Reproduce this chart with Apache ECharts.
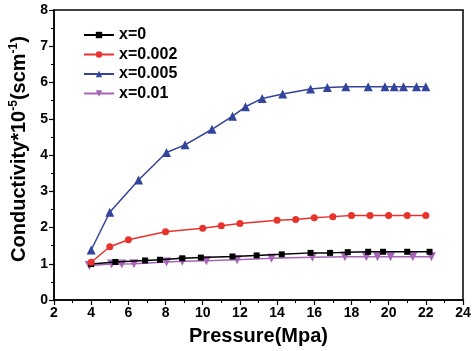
<!DOCTYPE html>
<html>
<head>
<meta charset="utf-8">
<script src="https://cdn.jsdelivr.net/npm/echarts@6/dist/echarts.min.js"></script>
<style>
  html, body { margin: 0; padding: 0; background: #fff; }
  #chart { width: 474px; height: 351px; }
</style>
</head>
<body>
<div id="chart"></div>
<script>
// values
const seriesNames = ['x=0', 'x=0.002', 'x=0.005', 'x=0.01'];

const p0 = [4, 5.3, 6.9, 7.7, 8.9, 9.9, 11.6, 12.9, 14.25, 15.8, 16.85, 17.8, 18.9, 19.7, 21.0, 22.2];
const c0 = [0.99, 1.05, 1.09, 1.11, 1.15, 1.17, 1.2, 1.23, 1.26, 1.3, 1.3, 1.32, 1.33, 1.33, 1.33, 1.33];

const p002 = [4, 5, 6, 8, 10, 11, 12, 14, 15, 16, 17, 18, 19, 20, 21, 22];
const c002 = [1.04, 1.47, 1.66, 1.88, 1.98, 2.05, 2.11, 2.2, 2.22, 2.27, 2.3, 2.33, 2.33, 2.33, 2.33, 2.33];

const p005 = [4, 5, 6.55, 8.05, 9.05, 10.5, 11.6, 12.3, 13.2, 14.3, 15.8, 16.7, 17.7, 18.9, 19.8, 20.3, 20.8, 21.5, 22.0];
const c005 = [1.38, 2.42, 3.31, 4.07, 4.28, 4.71, 5.07, 5.33, 5.56, 5.68, 5.82, 5.86, 5.88, 5.88, 5.88, 5.88, 5.88, 5.88, 5.88];

const p01 = [3.9, 5.1, 5.65, 6.3, 8.05, 8.9, 10.2, 11.85, 13.7, 15.9, 17.65, 18.8, 19.4, 20.1, 21.3, 22.3];
const c01 = [0.95, 0.99, 0.99, 1.0, 1.05, 1.07, 1.08, 1.11, 1.15, 1.18, 1.19, 1.19, 1.19, 1.19, 1.19, 1.19];

const xTicks = { min: 2, max: 24, step: 2 };
const yTicks = { min: 0, max: 8, step: 1 };

const colors = ['#000000', '#e8322c', '#33449c', '#a764b8'];
const symbols = ['rect', 'circle', 'triangle', 'path://M0,0 L10,0 L5,9 Z'];
const symbolSizes = [6, 7, 9, 9];

const zip = (xs, ys) => xs.map((x, i) => [x, ys[i]]);
const pairs = [zip(p0, c0), zip(p002, c002), zip(p005, c005), zip(p01, c01)];

const font = '"Liberation Sans", Arial, sans-serif';

const chart = echarts.init(document.getElementById('chart'));

chart.setOption({
  animation: false,
  textStyle: { fontFamily: font },
  grid: {
    left: 50, right: 11, top: 10, bottom: 51,
    show: true,
    borderColor: '#000',
    borderWidth: 1.5
  },
  legend: {
    orient: 'vertical',
    left: 78,
    top: 22,
    itemWidth: 30,
    itemHeight: 8,
    itemGap: 3.5,
    textStyle: { fontFamily: font, fontSize: 16, fontWeight: 'bold', color: '#000' },
    data: seriesNames
  },
  xAxis: {
    type: 'value',
    min: xTicks.min,
    max: xTicks.max,
    interval: xTicks.step,
    name: 'Pressure(Mpa)',
    nameLocation: 'middle',
    nameGap: 26,
    nameTextStyle: { fontSize: 20, fontWeight: 'bold', color: '#000', fontFamily: font },
    axisLine: { lineStyle: { color: '#000', width: 1.5 } },
    axisTick: { show: true, inside: false, length: 5, lineStyle: { color: '#000', width: 1.2 } },
    minorTick: { show: true, splitNumber: 2, length: 3, lineStyle: { color: '#000', width: 1 } },
    axisLabel: { fontSize: 14, fontWeight: 'bold', color: '#000', margin: 6, fontFamily: font },
    splitLine: { show: false }
  },
  yAxis: {
    type: 'value',
    min: yTicks.min,
    max: yTicks.max,
    interval: yTicks.step,
    name: '{b|Conductivity*10}{s|-5}{b|(scm}{s|-1}{b|)}',
    nameLocation: 'middle',
    nameGap: 24,
    nameRotate: 90,
    nameTextStyle: {
      color: '#000',
      fontFamily: font,
      padding: [0, 0, 0, 12],
      rich: {
        b: { fontSize: 20, fontWeight: 'bold', color: '#000', fontFamily: font },
        s: { fontSize: 12, fontWeight: 'bold', color: '#000', fontFamily: font, verticalAlign: 'top', lineHeight: 22 }
      }
    },
    axisLine: { lineStyle: { color: '#000', width: 1.5 } },
    axisTick: { show: true, inside: false, length: 5, lineStyle: { color: '#000', width: 1.2 } },
    minorTick: { show: true, splitNumber: 2, length: 3, lineStyle: { color: '#000', width: 1 } },
    axisLabel: { fontSize: 14, fontWeight: 'bold', color: '#000', margin: 6, fontFamily: font },
    splitLine: { show: false }
  },
  series: seriesNames.map((name, i) => ({
    name: name,
    type: 'line',
    data: pairs[i],
    symbol: symbols[i],
    symbolSize: symbolSizes[i],
    color: colors[i],
    lineStyle: { color: colors[i], width: 1.5 },
    itemStyle: { color: colors[i] },
    z: i === 3 ? 1 : 2
  }))
});
</script>
</body>
</html>
